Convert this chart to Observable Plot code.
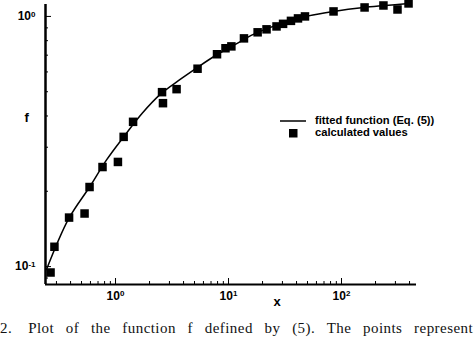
<!DOCTYPE html>
<html><head><meta charset="utf-8">
<script src="https://cdn.jsdelivr.net/npm/d3@7"></script>
<script src="https://cdn.jsdelivr.net/npm/@observablehq/plot@0.6"></script>
<style>
body{margin:0;background:#fff;width:474px;height:338px;overflow:hidden;position:relative}
#chart svg{display:block}
#caption{position:absolute;left:0px;top:321px;font-family:"Liberation Serif",serif;font-size:15px;line-height:15px;white-space:nowrap;word-spacing:7.5px;letter-spacing:0.45px;color:#111}
#caption .w{margin-left:16px}
.leg{position:absolute;font-family:"Liberation Sans",Arial,sans-serif;font-weight:bold;font-size:11.2px;color:#000;white-space:nowrap;line-height:1}
</style></head><body>
<div id="chart"></div>
<div id="legend"></div>
<div id="caption">2.<span class="w">Plot of the function f defined by (5). The points represent</span></div>
<script>
// calculated values (points)
const calcX = [0.266,0.288,0.388,0.532,0.589,0.767,1.05,1.18,1.43,2.58,2.63,3.47,5.32,7.91,9.40,10.6,13.7,18.1,21.7,26.6,30.4,35.7,41.2,47.5,85,160,235,313,392];
const calcF = [0.0947,0.120,0.157,0.163,0.208,0.250,0.262,0.330,0.379,0.498,0.450,0.512,0.618,0.706,0.746,0.759,0.817,0.864,0.888,0.912,0.934,0.960,0.982,1.0,1.047,1.086,1.106,1.066,1.127];
// fitted function (Eq. (5))
const fitX = [0.245,0.384,0.589,0.833,1.18,1.73,2.50,3.76,5.32,8.0,11.5,16.6,23.5,34.0,51.0,85,157,245,392];
const fitF = [0.0973,0.155,0.208,0.267,0.330,0.411,0.489,0.561,0.626,0.706,0.773,0.848,0.904,0.955,1.005,1.047,1.086,1.106,1.127];
// axes
const xMajor = [1,10,100];
const xMajorLabels = ["10^0","10^1","10^2"];
const yMajor = [0.1,1];
const yMajorLabels = ["10^-1","10^0"];
const xMinor = [0.3,0.4,0.5,0.6,0.7,0.8,0.9,2,3,4,5,6,7,8,9,20,30,40,50,60,70,80,90,200,300,400];
const yMinor = [0.09,0.2,0.3,0.4,0.5,0.6,0.7,0.8,0.9];
const xDomain = [0.24,461];
const yDomain = [0.0848,1.116];
const xTitle = "x";
const yTitle = "f";
const legendLabels = ["fitted function (Eq. (5))","calculated values"];

const calc = calcX.map((x,i)=>({x, f: calcF[i]}));
const fit = fitX.map((x,i)=>({x, f: fitF[i]}));

const font = "'Liberation Sans', Arial, sans-serif";
const chart = Plot.plot({
  width: 474, height: 318,
  marginLeft: 45, marginRight: 58, marginTop: 4, marginBottom: 34,
  style: {fontFamily: font, fontSize: "12px", fontWeight: "bold", color: "#000", background: "#fff"},
  x: {type: "log", domain: xDomain},
  y: {type: "log", domain: yDomain},
  marks: [
    Plot.axisX(xMinor, {tickSize: -3, tickFormat: () => "", label: null}),
    Plot.axisX(xMajor, {tickSize: -6, tickFormat: () => "", label: null}),
    Plot.axisX(xMajor, {tickSize: 0, tickPadding: 7, tickFormat: d => xMajorLabels[xMajor.indexOf(d)], label: null, fontSize: 12}),
    Plot.axisY(yMinor, {tickSize: -3, tickFormat: () => "", label: null}),
    Plot.axisY(yMajor, {tickSize: -6, tickFormat: () => "", label: null}),
    Plot.axisY(yMajor, {tickSize: 0, tickPadding: 10, tickFormat: d => yMajorLabels[yMajor.indexOf(d)], label: null, fontSize: 12}),
    Plot.ruleX([xDomain[0]], {strokeWidth: 2.5}),
    Plot.ruleY([yDomain[0]], {strokeWidth: 2}),
    Plot.line(fit, {x: "x", y: "f", curve: "catmull-rom", strokeWidth: 1.5, stroke: "#000"}),
    Plot.dot(calc, {x: "x", y: "f", symbol: "square", r: 4.8, fill: "#000", stroke: null}),
    Plot.text([yTitle], {frameAnchor: "left", dx: -21, dy: -27, fontSize: 13, fontWeight: "bold"}),
    Plot.text([xTitle], {frameAnchor: "bottom", dx: 46, dy: 21, fontSize: 13, fontWeight: "bold"})
  ]
});
document.getElementById("chart").appendChild(chart);
// superscripts for tick labels
d3.select(chart).selectAll("text").each(function(){
  const t = this.textContent;
  const m = /^10\^(.+)$/.exec(t);
  if (m) {
    this.textContent = "10";
    d3.select(this).append("tspan").attr("dy", "-0.45em").attr("font-size", "8px").text(m[1]);
  }
});
// legend
const leg = document.getElementById("legend");
leg.innerHTML = `
<svg style="position:absolute;left:280px;top:116px" width="27" height="24">
  <line x1="0" x2="26" y1="5" y2="5" stroke="#000" stroke-width="1.5"/>
  <rect x="9" y="13" width="8.5" height="8.5" fill="#000"/>
</svg>
<div class="leg" style="left:315px;top:115px">${legendLabels[0]}</div>
<div class="leg" style="left:315px;top:127px">${legendLabels[1]}</div>`;
</script>
</body></html>
